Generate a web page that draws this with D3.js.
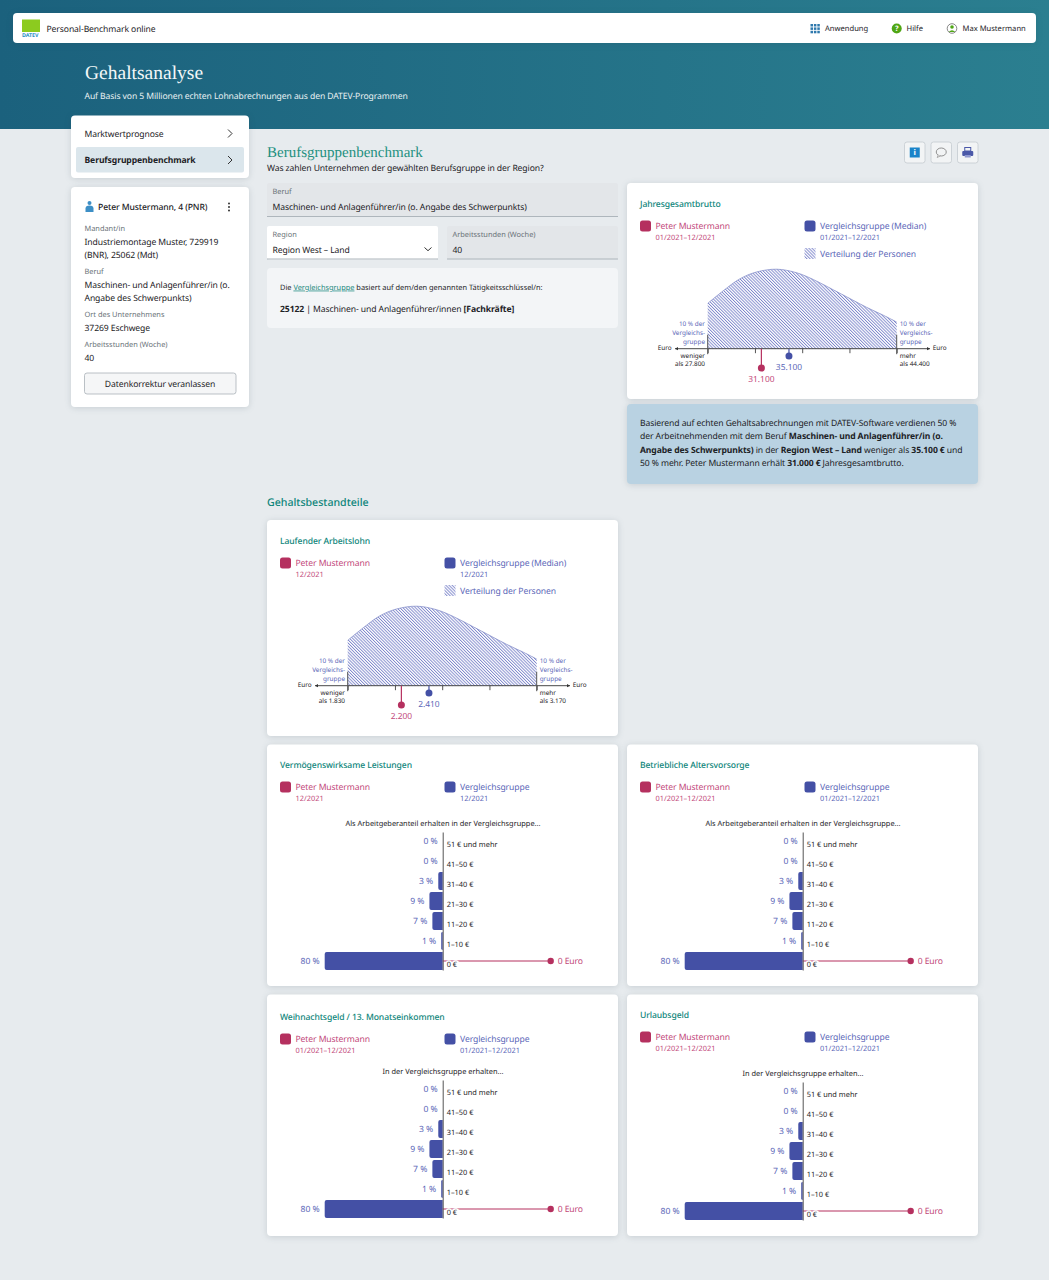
<!DOCTYPE html>
<html lang="de">
<head>
<meta charset="utf-8">
<title>Gehaltsanalyse</title>
<script src="https://cdn.jsdelivr.net/npm/d3@7"></script>
<style>
html, body { margin: 0; padding: 0; background: #e7ebee; overflow: hidden; }
svg { display: block; }
text { font-family: "Noto Sans", sans-serif; fill: #1d2226; text-rendering: geometricPrecision; }
.serif { font-family: "Liberation Serif", serif; }
.card { fill: #fff; filter: drop-shadow(0 1px 3px rgba(40,60,75,.16)); }
</style>
</head>
<body>
<div id="page"></div>
<script>
// chart values
var bandLabels = ["51 € und mehr", "41–50 €", "31–40 €", "21–30 €", "11–20 €", "1–10 €", "0 €"];
var vwlShares = [0, 0, 3, 9, 7, 1, 80];
var bavShares = [0, 0, 3, 9, 7, 1, 80];
var weihnachtShares = [0, 0, 3, 9, 7, 1, 80];
var urlaubShares = [0, 0, 3, 9, 7, 1, 80];

// shape of the distribution: share of people (0-1) and height (peak = 100)
var curveShares = [0, 0.083, 0.171, 0.259, 0.365, 0.471, 0.559, 0.665, 0.753, 0.841, 0.93, 1];
var curveDensity = [57, 73, 88, 96.5, 100, 95.5, 87, 74, 63, 52, 42, 33.5];
var axisTickShares = [0, 0.25, 0.5, 0.75, 1];

// euro values: lower limit, person, median, upper limit
var jahresEuro = [27800, 31100, 35100, 44400];
var arbeitslohnEuro = [1830, 2200, 2410, 3170];
var markerShares = [0, 0.284, 0.43, 1];

var infoLines = [
    [["Basierend auf echten Gehaltsabrechnungen mit DATEV-Software verdienen 50 %", 0]],
    [["der Arbeitnehmenden mit dem Beruf ", 0], ["Maschinen- und Anlagenführer/in (o.", 1]],
    [["Angabe des Schwerpunkts)", 1], [" in der ", 0], ["Region West – Land", 1], [" weniger als ", 0], ["35.100 €", 1], [" und", 0]],
    [["50 % mehr. Peter Mustermann erhält ", 0], ["31.000 €", 1], [" Jahresgesamtbrutto.", 0]]
];

var RED = "#b5305f", RED_TEXT = "#c2487a", BLUE = "#4450a5", BLUE_TEXT = "#5b67b8", TEAL = "#0e857a";
var BODY = 8.6, SMALL = 7.4, TINY = 6.4;

var svg = d3.select("#page").append("svg")
    .attr("width", 1049)
    .attr("height", 1280);

var defs = svg.append("defs");

var grad = defs.append("linearGradient").attr("id", "headerGrad");
grad.append("stop").attr("offset", "0%").attr("stop-color", "#1b617d");
grad.append("stop").attr("offset", "100%").attr("stop-color", "#2b7f90");

defs.append("pattern")
    .attr("id", "hatch")
    .attr("width", 2.2)
    .attr("height", 2.2)
    .attr("patternUnits", "userSpaceOnUse")
    .attr("patternTransform", "rotate(-45)")
    .append("rect")
    .attr("width", 0.9)
    .attr("height", 2.2)
    .attr("fill", "#7d86cb");

// small helper, y is the middle of the text line
function label(parent, x, y, str, size, color, weight, anchor) {
    return parent.append("text")
        .attr("x", x)
        .attr("y", y)
        .attr("dy", ".35em")
        .attr("font-size", size)
        .attr("font-weight", weight || 400)
        .attr("text-anchor", anchor || "start")
        .attr("letter-spacing", size == BODY ? -0.1 : null)
        .style("fill", color || "#1d2226")
        .text(str);
}

function card(parent, x, y, w, h, fill) {
    return parent.append("rect")
        .attr("class", "card")
        .attr("x", x).attr("y", y)
        .attr("width", w).attr("height", h)
        .attr("rx", 4)
        .style("fill", fill || "#fff");
}

function chevron(parent, x, y) {
    parent.append("path")
        .attr("d", "M" + (x - 2) + " " + (y - 4) + " l4 4 l-4 4")
        .attr("fill", "none")
        .attr("stroke", "#333")
        .attr("stroke-width", 1);
}

function legend(parent, x, y, color, textColor, name, date) {
    parent.append("rect")
        .attr("x", x).attr("y", y - 5.5)
        .attr("width", 11).attr("height", 11)
        .attr("rx", 2.5)
        .attr("fill", color);
    label(parent, x + 15.5, y, name, BODY, textColor);
    if (date) label(parent, x + 15.5, y + 11.2, date, SMALL, textColor);
}

/*
 * DistributionChart - hatched curve with the person and the median below it
 * @param _parent -- d3 selection to draw in
 * @param _config -- card position, title, dates and euro values
 */
DistributionChart = function(_parent, _config) {
    this.parent = _parent;
    this.config = _config;
    this.initVis();
}

DistributionChart.prototype.initVis = function() {
    var vis = this, c = vis.config;
    vis.g = vis.parent.append("g");
    card(vis.g, c.x, c.y, 351, 216);
    label(vis.g, c.x + 13, c.y + 20.5, c.title, BODY, TEAL, 500);
    legend(vis.g, c.x + 13, c.y + 43, RED, RED_TEXT, "Peter Mustermann", c.date);
    legend(vis.g, c.x + 177.5, c.y + 43, BLUE, BLUE_TEXT, "Vergleichsgruppe (Median)", c.date);
    vis.g.append("rect")
        .attr("x", c.x + 177.5).attr("y", c.y + 65)
        .attr("width", 11).attr("height", 11)
        .attr("fill", "url(#hatch)");
    label(vis.g, c.x + 193, c.y + 70.5, "Verteilung der Personen", BODY, BLUE_TEXT);
    vis.updateVis();
}

DistributionChart.prototype.updateVis = function() {
    var vis = this, c = vis.config;
    var left = c.x + 80.7, right = c.x + 269.7, base = c.y + 165.7;

    var x = d3.scaleLinear().domain([0, 1]).range([left, right]);
    var y = d3.scaleLinear().domain([0, 100]).range([base, base - 79.5]);
    var euro = d3.scaleLinear().domain(c.euro).range(markerShares.map(x));

    var area = d3.area()
        .x(function(d) { return x(d.s); })
        .y0(base)
        .y1(function(d) { return y(d.v); })
        .curve(d3.curveCatmullRom);

    var points = curveShares.map(function(s, i) { return { s: s, v: curveDensity[i] }; });

    vis.g.append("path")
        .datum(points)
        .attr("d", area)
        .attr("fill", "url(#hatch)");
    vis.g.append("path")
        .datum(points)
        .attr("d", d3.line().x(function(d) { return x(d.s); }).y(function(d) { return y(d.v); }).curve(d3.curveCatmullRom))
        .attr("fill", "none")
        .attr("stroke", "#7d86c6")
        .attr("stroke-width", 0.7);

    // axis with the equally spaced ticks
    var axis = vis.g.append("g")
        .attr("transform", "translate(0," + base + ")")
        .call(d3.axisBottom(x).tickValues(axisTickShares).tickSize(4.5).tickFormat(""));
    axis.select(".domain").remove();
    axis.selectAll("line").attr("stroke", "#555");

    vis.g.append("line")
        .attr("x1", left - 32.7).attr("x2", right + 33.3)
        .attr("y1", base).attr("y2", base)
        .attr("stroke", "#333").attr("stroke-width", 0.9);
    vis.g.append("path")
        .attr("d", "M" + (right + 33.3) + " " + base + " l-3 -1.6 v3.2z M" + (left - 32.7) + " " + base + " l3 -1.6 v3.2z")
        .attr("fill", "#333");

    [left, right].forEach(function(p) {
        vis.g.append("line")
            .attr("x1", p).attr("x2", p)
            .attr("y1", base - 14).attr("y2", base + 5.5)
            .attr("stroke", "#555").attr("stroke-width", 1);
    });

    ["10 % der", "Vergleichs-", "gruppe"].forEach(function(t, i) {
        label(vis.g, left - 2.7, base - 24.7 + i * 9, t, TINY, BLUE_TEXT, 400, "end");
        label(vis.g, right + 3, base - 24.7 + i * 9, t, TINY, BLUE_TEXT);
    });
    label(vis.g, left - 36, base - 0.7, "Euro", TINY, "#1d2226", 400, "end");
    label(vis.g, right + 36, base - 0.7, "Euro", TINY, "#1d2226");
    label(vis.g, left - 2.7, base + 6.8, "weniger", TINY, "#1d2226", 400, "end");
    label(vis.g, left - 2.7, base + 15.5, "als " + d3.format(",")(c.euro[0]).replace(/,/g, "."), TINY, "#1d2226", 400, "end");
    label(vis.g, right + 3, base + 6.8, "mehr", TINY);
    label(vis.g, right + 3, base + 15.5, "als " + d3.format(",")(c.euro[3]).replace(/,/g, "."), TINY);

    // person and median markers
    var markers = [
        { v: c.euro[1], len: 19.3, stem: RED, text: RED_TEXT, ty: 30.5 },
        { v: c.euro[2], len: 7.3, stem: BLUE, text: BLUE_TEXT, ty: 18 }
    ];
    markers.forEach(function(m) {
        vis.g.append("line")
            .attr("x1", euro(m.v)).attr("x2", euro(m.v))
            .attr("y1", base).attr("y2", base + m.len)
            .attr("stroke", m.stem).attr("stroke-width", 1.2);
        vis.g.append("circle")
            .attr("cx", euro(m.v)).attr("cy", base + m.len)
            .attr("r", 3.5)
            .attr("fill", m.stem);
        label(vis.g, euro(m.v), base + m.ty, d3.format(",")(m.v).replace(/,/g, "."), 8.4, m.text, 400, "middle");
    });
}

/*
 * BarChart - horizontal bars growing to the left of the band axis
 * @param _parent -- d3 selection to draw in
 * @param _data   -- shares in percent, one for each entry of bandLabels
 * @param _config -- card position, title, caption and line positions
 */
BarChart = function(_parent, _data, _config) {
    this.parent = _parent;
    this.data = _data;
    this.config = _config;
    this.initVis();
}

BarChart.prototype.initVis = function() {
    var vis = this, c = vis.config;
    vis.g = vis.parent.append("g");
    card(vis.g, c.x, c.y, 351, 241.5);
    label(vis.g, c.x + 13, c.titleY, c.title, BODY, TEAL, 500);
    legend(vis.g, c.x + 13, c.legendY, RED, RED_TEXT, "Peter Mustermann", c.date);
    legend(vis.g, c.x + 177.5, c.legendY, BLUE, BLUE_TEXT, "Vergleichsgruppe", c.date);
    label(vis.g, c.x + 176, c.captionY, c.caption, SMALL, "#1d2226", 400, "middle");
    vis.updateVis();
}

BarChart.prototype.updateVis = function() {
    var vis = this, c = vis.config;
    var axisX = c.x + 175.7;

    var y = d3.scaleBand()
        .domain(bandLabels)
        .range([c.top, c.top + 138])
        .paddingInner(0.1);
    var w = d3.scaleLinear().domain([0, 80]).range([0, 118]);

    var rows = bandLabels.map(function(b, i) { return { band: b, share: vis.data[i] }; });

    vis.g.selectAll(".bar")
        .data(rows.filter(function(d) { return d.share > 0; }))
        .enter()
        .append("path")
        .attr("class", "bar")
        .attr("fill", BLUE)
        .attr("d", function(d) {
            var r = Math.min(2, w(d.share)), h = y.bandwidth();
            return "M" + axisX + " " + y(d.band) +
                " H" + (axisX - w(d.share) + r) +
                " q" + (-r) + " 0 " + (-r) + " " + r +
                " V" + (y(d.band) + h - r) +
                " q0 " + r + " " + r + " " + r +
                " H" + axisX + "z";
        });

    vis.g.selectAll(".share")
        .data(rows)
        .enter()
        .append("text")
        .attr("class", "share")
        .attr("x", function(d) { return axisX - w(d.share) - 5; })
        .attr("y", function(d) { return y(d.band) + y.bandwidth() / 2; })
        .attr("dy", ".35em")
        .attr("font-size", BODY)
        .attr("text-anchor", "end")
        .style("fill", BLUE_TEXT)
        .text(function(d) { return d.share + " %"; });

    // the person gets 0 Euro, line sits in the lowest row
    var py = y("0 €") + y.bandwidth() / 2;
    vis.g.append("line")
        .attr("x1", axisX).attr("x2", axisX + 108)
        .attr("y1", py).attr("y2", py)
        .attr("stroke", RED).attr("stroke-width", 1);
    vis.g.append("circle")
        .attr("cx", axisX + 108).attr("cy", py)
        .attr("r", 3.2)
        .attr("fill", RED);
    label(vis.g, axisX + 115, py + 0.3, "0 Euro", BODY, RED_TEXT);

    var axis = vis.g.append("g")
        .attr("transform", "translate(" + axisX + ",0)")
        .call(d3.axisRight(y).tickSize(0).tickPadding(4));
    axis.select(".domain").attr("stroke", "#555").attr("stroke-width", 1);
    axis.selectAll("text")
        .attr("font-size", SMALL)
        .attr("font-family", "Noto Sans")
        .attr("dy", ".35em")
        .attr("y", 3)
        .style("paint-order", "stroke")
        .style("stroke", "#fff")
        .style("stroke-width", 3);
}

// page header
svg.append("rect").attr("width", 1049).attr("height", 1280).attr("fill", "#e7ebee");
svg.append("rect").attr("width", 1049).attr("height", 129).attr("fill", "url(#headerGrad)");

var nav = svg.append("g");
card(nav, 13, 13, 1023, 30);
nav.append("rect").attr("x", 22).attr("y", 19.5).attr("width", 18).attr("height", 12.5).attr("fill", "#8ccb1f");
label(nav, 22, 35.3, "DATEV", 5.3, "#1f8fc4", 700);
label(nav, 46.5, 28.5, "Personal-Benchmark online", BODY);

d3.range(9).forEach(function(i) {
    nav.append("rect")
        .attr("x", 810.5 + (i % 3) * 3.4)
        .attr("y", 24 + Math.floor(i / 3) * 3.4)
        .attr("width", 2.5).attr("height", 2.5)
        .attr("fill", "#2f79ad");
});
label(nav, 825, 28.5, "Anwendung", 7.6);
nav.append("circle").attr("cx", 896.7).attr("cy", 28.5).attr("r", 5).attr("fill", "#4fa615");
label(nav, 896.7, 28.5, "?", 7.5, "#fff", 700, "middle");
label(nav, 906.5, 28.5, "Hilfe", 7.6);
nav.append("circle").attr("cx", 952).attr("cy", 28.5).attr("r", 4.8).attr("fill", "#fff").attr("stroke", "#555").attr("stroke-width", 0.7);
nav.append("circle").attr("cx", 952).attr("cy", 27).attr("r", 1.8).attr("fill", "#4fa615");
nav.append("path").attr("d", "M948.7 32 q3.3 -3.4 6.6 0z").attr("fill", "#4fa615");
label(nav, 962.5, 28.5, "Max Mustermann", 7.6);

label(svg, 85, 72.5, "Gehaltsanalyse", 19.5, "#f2f7f8").attr("class", "serif");
label(svg, 84.5, 96, "Auf Basis von 5 Millionen echten Lohnabrechnungen aus den DATEV-Programmen", BODY, "#e8f1f3");

// side menu
var side = svg.append("g");
card(side, 71, 115.5, 178, 62.5);
label(side, 84.5, 133.5, "Marktwertprognose", BODY);
chevron(side, 230, 133.5);
side.append("rect").attr("x", 76).attr("y", 147).attr("width", 168).attr("height", 25.5).attr("rx", 2).attr("fill", "#dbe6ec");
label(side, 84.5, 160, "Berufsgruppenbenchmark", BODY, "#1d2226", 700);
chevron(side, 230, 160);

card(side, 71, 187, 178, 220);
side.append("circle").attr("cx", 89.5).attr("cy", 203).attr("r", 2).attr("fill", "#3d8fc6");
side.append("path").attr("d", "M85.5 212 v-3.5 q0 -3 4 -3 q4 0 4 3 v3.5z").attr("fill", "#3d8fc6");
label(side, 98, 207, "Peter Mustermann, 4 (PNR)", BODY, "#1d2226", 500);
[203.5, 207, 210.5].forEach(function(dy) {
    side.append("circle").attr("cx", 229).attr("cy", dy).attr("r", 1).attr("fill", "#333");
});
var sideRows = [
    [228, "Mandant/in", 1], [241.5, "Industriemontage Muster, 729919", 0], [254.5, "(BNR), 25062 (Mdt)", 0],
    [271, "Beruf", 1], [284.5, "Maschinen- und Anlagenführer/in (o.", 0], [298, "Angabe des Schwerpunkts)", 0],
    [314.5, "Ort des Unternehmens", 1], [328, "37269 Eschwege", 0],
    [344.5, "Arbeitsstunden (Woche)", 1], [358, "40", 0]
];
sideRows.forEach(function(r) {
    label(side, 84.5, r[0], r[1], r[2] ? SMALL : BODY, r[2] ? "#6a7278" : "#1d2226");
});
side.append("rect").attr("x", 84.5).attr("y", 373).attr("width", 151.5).attr("height", 21).attr("rx", 2.5)
    .attr("fill", "#f5f6f7").attr("stroke", "#aab1b7").attr("stroke-width", 0.8);
label(side, 160, 383.5, "Datenkorrektur veranlassen", BODY, "#1d2226", 400, "middle");

// form on top of the main column
var form = svg.append("g");
label(form, 267, 152, "Berufsgruppenbenchmark", 15, "#23907f").attr("class", "serif");
label(form, 267, 168, "Was zahlen Unternehmen der gewählten Berufsgruppe in der Region?", BODY);

function field(x, y, w, h, fill, name, value) {
    form.append("rect").attr("x", x).attr("y", y).attr("width", w).attr("height", h).attr("rx", 2)
        .attr("fill", fill);
    form.append("rect").attr("x", x).attr("y", y + h - 1).attr("width", w).attr("height", 1).attr("fill", "#aeb6bc");
    label(form, x + 5.5, y + 8.8, name, SMALL, "#6a7278");
    label(form, x + 5.5, y + 23.5, value, BODY);
}
field(267, 183, 351, 34, "#e3e6e9", "Beruf", "Maschinen- und Anlagenführer/in (o. Angabe des Schwerpunkts)");
field(267, 226, 171, 33.5, "#fff", "Region", "Region West – Land");
field(447, 226, 171, 33.5, "#e3e6e9", "Arbeitsstunden (Woche)", "40");
form.append("path").attr("d", "M424.5 247.5 l3.5 3.2 l3.5 -3.2").attr("fill", "none").attr("stroke", "#333");

form.append("rect").attr("x", 267).attr("y", 268).attr("width", 351).attr("height", 60).attr("rx", 4).attr("fill", "#f3f5f7");
var boxLine = label(form, 280, 287, "Die ", SMALL);
boxLine.append("tspan").style("fill", "#1d8a80").attr("text-decoration", "underline").text("Vergleichsgruppe");
boxLine.append("tspan").text(" basiert auf dem/den genannten Tätigkeitsschlüssel/n:");
var keyLine = label(form, 280, 308.5, "", BODY);
keyLine.append("tspan").attr("font-weight", 700).text("25122");
keyLine.append("tspan").text(" | Maschinen- und Anlagenführer/innen ");
keyLine.append("tspan").attr("font-weight", 700).text("[Fachkräfte]");

// icon buttons
[904.5, 931, 957.5].forEach(function(bx, i) {
    form.append("rect").attr("x", bx).attr("y", 142).attr("width", 20.5).attr("height", 21).attr("rx", 2.5)
        .attr("fill", "#f2f4f5").attr("stroke", "#c4cacf").attr("stroke-width", 0.8);
    var cx = bx + 10.25;
    if (i == 0) {
        form.append("rect").attr("x", cx - 5).attr("y", 147.5).attr("width", 10).attr("height", 10).attr("fill", "#1b84c9");
        label(form, cx, 152.5, "i", 8, "#fff", 700, "middle");
    } else if (i == 1) {
        form.append("ellipse").attr("cx", cx).attr("cy", 152).attr("rx", 5).attr("ry", 4)
            .attr("fill", "none").attr("stroke", "#777").attr("stroke-width", 0.8);
        form.append("path").attr("d", "M" + (cx - 3) + " 155 l-1 2.5 l3 -1.6").attr("fill", "#fff").attr("stroke", "#777").attr("stroke-width", 0.6);
    } else {
        form.append("rect").attr("x", cx - 3).attr("y", 147.5).attr("width", 6).attr("height", 3.5).attr("fill", "none").attr("stroke", "#4a58a8");
        form.append("rect").attr("x", cx - 5.5).attr("y", 151).attr("width", 11).attr("height", 5).attr("rx", 1).attr("fill", "#4a58a8");
        form.append("rect").attr("x", cx - 3).attr("y", 155).attr("width", 6).attr("height", 2.5).attr("fill", "#8f98cf");
    }
});

// charts
new DistributionChart(svg, {
    x: 627, y: 183,
    title: "Jahresgesamtbrutto",
    date: "01/2021–12/2021",
    euro: jahresEuro
});

var blue = svg.append("g");
card(blue, 627, 404, 351, 80, "#b9d2e2");
infoLines.forEach(function(line, i) {
    var t = label(blue, 640, 423 + i * 13.4, "", BODY);
    line.forEach(function(part) {
        t.append("tspan").attr("font-weight", part[1] ? 700 : 400).text(part[0]);
    });
});

label(svg, 267, 502, "Gehaltsbestandteile", 10.6, TEAL, 500);

new DistributionChart(svg, {
    x: 267, y: 520,
    title: "Laufender Arbeitslohn",
    date: "12/2021",
    euro: arbeitslohnEuro
});

new BarChart(svg, vwlShares, {
    x: 267, y: 744.5, titleY: 765, legendY: 787, captionY: 823, top: 832,
    title: "Vermögenswirksame Leistungen", date: "12/2021",
    caption: "Als Arbeitgeberanteil erhalten in der Vergleichsgruppe..."
});
new BarChart(svg, bavShares, {
    x: 627, y: 744.5, titleY: 765, legendY: 787, captionY: 823, top: 832,
    title: "Betriebliche Altersvorsorge", date: "01/2021–12/2021",
    caption: "Als Arbeitgeberanteil erhalten in der Vergleichsgruppe..."
});
new BarChart(svg, weihnachtShares, {
    x: 267, y: 994.5, titleY: 1017, legendY: 1039, captionY: 1071, top: 1080,
    title: "Weihnachtsgeld / 13. Monatseinkommen", date: "01/2021–12/2021",
    caption: "In der Vergleichsgruppe erhalten..."
});
new BarChart(svg, urlaubShares, {
    x: 627, y: 994.5, titleY: 1014.5, legendY: 1037, captionY: 1073, top: 1082,
    title: "Urlaubsgeld", date: "01/2021–12/2021",
    caption: "In der Vergleichsgruppe erhalten..."
});
</script>
</body>
</html>
